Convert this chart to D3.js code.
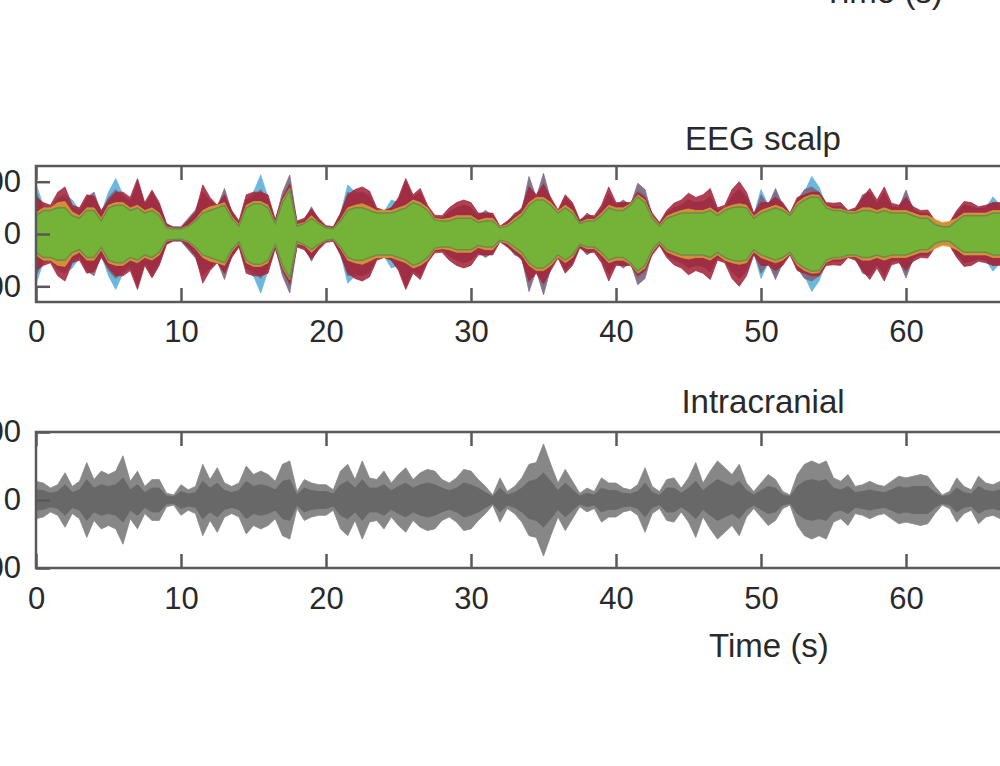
<!DOCTYPE html>
<html><head><meta charset="utf-8">
<script src="https://cdn.jsdelivr.net/npm/d3@7"></script>
<style>
body{margin:0;background:#fff}
svg{display:block}
text{font-family:"Liberation Sans",Arial,Helvetica,sans-serif;fill:#2a2a2a}
</style>
</head><body>
<svg id="chart" width="1000" height="766"></svg>
<script>
const time = [0,0.5,1,1.5,2,2.5,3,3.5,4,4.5,5,5.5,6,6.5,7,7.5,8,8.5,9,9.5,
 10,10.5,11,11.5,12,12.5,13,13.5,14,14.5,15,15.5,16,16.5,17,17.5,18,18.5,19,19.5,
 20,20.5,21,21.5,22,22.5,23,23.5,24,24.5,25,25.5,26,26.5,27,27.5,28,28.5,29,29.5,
 30,30.5,31,31.5,32,32.5,33,33.5,34,34.5,35,35.5,36,36.5,37,37.5,38,38.5,39,39.5,
 40,40.5,41,41.5,42,42.5,43,43.5,44,44.5,45,45.5,46,46.5,47,47.5,48,48.5,49,49.5,
 50,50.5,51,51.5,52,52.5,53,53.5,54,54.5,55,55.5,56,56.5,57,57.5,58,58.5,59,59.5,
 60,60.5,61,61.5,62,62.5,63,63.5,64,64.5,65,65.5,66,66.5,67];

const eegBlue = [95,55,50,70,75,65,45,65,70,40,80,106,75,65,90,55,70,55,18,12,
 12,25,40,75,60,50,75,40,22,65,80,113,70,25,70,100,22,26,45,26,
 14,12,38,94,80,80,75,45,42,65,60,90,70,75,50,32,30,42,50,55,
 50,35,38,35,13,22,35,45,95,65,100,60,40,65,55,24,35,30,48,75,
 55,58,55,85,75,35,20,40,50,55,65,60,62,70,45,50,72,85,70,35,
 85,55,80,55,38,65,80,110,90,55,52,52,42,45,65,75,58,78,52,50,
 75,46,40,40,24,20,20,40,55,52,48,50,71,55,50];

const eegGray = [80,50,48,65,70,50,42,70,80,40,70,85,70,60,100,55,80,55,18,14,
 14,30,46,80,65,52,87,42,22,65,70,85,65,25,80,113,22,26,52,26,
 14,12,36,80,75,80,70,45,42,50,65,100,70,80,50,32,30,42,50,55,
 50,35,45,35,13,22,40,45,110,70,116,65,42,70,55,24,40,30,48,78,
 55,65,55,97,85,35,20,40,50,55,65,60,62,72,45,50,72,85,70,35,
 75,55,87,55,38,65,85,90,80,55,52,52,42,45,75,80,58,80,52,50,
 84,46,40,40,24,20,20,40,55,52,48,50,60,55,50];

const eegRed = [70,60,55,80,90,55,50,75,72,45,65,80,80,70,106,60,84,60,20,12,
 12,26,42,94,70,55,75,45,25,75,80,80,75,28,70,95,25,30,48,30,
 16,14,40,75,85,90,82,50,45,50,70,106,75,87,55,36,35,50,60,65,
 60,40,40,40,15,25,36,50,90,75,95,70,46,75,60,27,36,35,55,90,
 60,60,60,80,70,40,22,45,59,65,78,70,75,87,50,55,85,100,80,40,
 60,60,70,60,40,70,75,80,80,60,59,60,45,50,70,87,65,90,59,55,
 70,52,45,46,26,20,22,45,62,60,52,55,60,60,55];

const eegOrange = [40,50,50,60,62,42,35,50,50,30,55,60,60,50,55,45,50,40,14,11,
 11,16,28,45,52,55,60,34,18,55,62,62,55,22,65,88,18,22,35,22,
 13,11,28,50,55,58,52,45,45,45,50,55,65,60,50,30,28,30,35,35,
 35,26,30,30,14,18,30,40,60,70,70,60,44,55,45,22,28,28,40,55,
 50,50,58,75,65,34,18,34,40,45,48,45,45,50,40,50,55,58,55,34,
 45,50,55,50,38,60,70,75,74,54,48,48,43,43,50,50,45,50,45,45,
 45,40,35,35,28,22,24,30,40,40,40,40,45,45,40];

const eegGreen = [35,45,45,50,50,35,30,45,45,25,50,55,55,45,50,40,45,35,12,10,
 10,14,25,40,45,50,55,30,15,50,58,58,50,20,60,84,15,20,30,20,
 12,10,25,45,50,50,45,40,40,40,45,50,60,55,45,27,25,25,30,30,
 30,22,25,25,12,15,25,35,55,65,65,55,40,50,40,20,25,25,35,50,
 45,45,55,71,60,30,15,30,35,40,40,40,40,45,35,45,50,52,50,30,
 40,45,50,45,35,55,65,71,70,50,45,45,40,40,45,45,40,45,40,40,
 40,35,30,30,18,14,14,25,35,35,35,35,40,40,35];

const icOuter = [55,50,35,45,80,40,55,110,60,85,75,85,130,55,85,40,60,60,20,15,
 45,30,40,105,60,95,50,40,50,100,75,85,75,55,105,115,25,60,50,45,
 45,30,85,105,60,115,65,60,85,50,75,95,60,80,90,85,60,50,65,90,
 85,60,40,15,65,25,40,65,105,110,165,105,50,90,55,20,35,25,65,50,
 50,35,30,45,95,40,25,60,65,35,65,110,50,85,115,95,75,105,50,25,
 50,75,60,25,15,75,105,115,105,115,65,55,75,40,45,55,45,40,55,70,
 65,70,75,70,40,15,25,65,40,30,70,50,45,55,50];

const icInner = [30,28,20,25,45,22,30,60,35,45,40,45,65,30,45,22,35,35,12,10,
 25,18,22,55,35,50,28,22,28,55,40,45,40,30,55,60,15,35,28,25,
 25,18,45,55,35,60,35,35,45,28,40,50,35,45,50,45,35,28,35,50,
 45,35,22,10,35,15,22,35,55,60,80,55,28,50,30,12,20,15,35,28,
 28,20,18,25,50,22,15,35,35,20,35,55,28,45,60,50,40,55,28,15,
 28,40,35,15,10,40,55,60,55,60,35,30,40,22,25,30,25,22,30,40,
 35,40,40,40,22,10,15,35,22,18,40,28,25,30,28];

const xTicks = [0,10,20,30,40,50,60];
const eegYTicks = [-100,0,100];
const icYTicks = [-200,0,200];
const eegTitle = "EEG scalp";
const icTitle = "Intracranial";
const xLabel = "Time (s)";

// ---------- drawing ----------
const svg = d3.select("#chart");
const x = d3.scaleLinear().domain([0,100]).range([36,1486]);
const frameColor = "#595959";

// cut-off x label of the panel above
svg.append("text").attr("x", 883).attr("y", 3).attr("text-anchor","middle")
  .style("font-size","33px").text(xLabel);

function panel(cfg){
  const y = d3.scaleLinear().domain(cfg.yDomain).range([cfg.bottom, cfg.top]);
  const g = svg.append("g");
  const clipId = "clip" + cfg.top;
  svg.append("clipPath").attr("id", clipId).append("rect")
    .attr("x", x.range()[0]).attr("y", cfg.top)
    .attr("width", x.range()[1]-x.range()[0]).attr("height", cfg.bottom-cfg.top);

  const area = d3.area()
    .x((d,i) => x(time[i]))
    .y0(v => y(-v)).y1(v => y(v))
    .curve(d3.curveLinear);

  const dataG = g.append("g").attr("clip-path", `url(#${clipId})`);
  cfg.series.forEach(s => {
    dataG.append("path").datum(s.values).attr("d", area)
      .attr("fill", s.color).attr("fill-opacity", s.opacity || 1)
      .attr("stroke", s.edge || s.color).attr("stroke-width", s.edgeWidth || 0.8)
      .attr("stroke-opacity", s.opacity || 1);
  });

  const ax = g.append("g").attr("transform", `translate(0,${cfg.bottom})`)
    .call(d3.axisBottom(x).tickValues(xTicks).tickSizeInner(-14).tickSizeOuter(0).tickPadding(cfg.xPad).tickFormat(d3.format("d")));
  const at = g.append("g").attr("transform", `translate(0,${cfg.top})`)
    .call(d3.axisTop(x).tickValues(xTicks).tickSizeInner(-14).tickSizeOuter(0).tickFormat(""));
  const ay = g.append("g").attr("transform", `translate(${x.range()[0]},0)`)
    .call(d3.axisLeft(y).tickValues(cfg.yTicks).tickSizeInner(-14).tickSizeOuter(0).tickPadding(15).tickFormat(d3.format("d")));
  [ax, at, ay].forEach(a => {
    a.select(".domain").remove();
    a.selectAll("line").attr("stroke", frameColor).attr("stroke-width", 2.5);
    a.selectAll("text").style("font-size","31px").attr("fill","#2a2a2a")
      .style("font-family","'Liberation Sans',Arial,Helvetica,sans-serif");
  });

  g.append("rect").attr("x", x.range()[0]).attr("y", cfg.top)
    .attr("width", x.range()[1]-x.range()[0]).attr("height", cfg.bottom-cfg.top)
    .attr("fill","none").attr("stroke", frameColor).attr("stroke-width", 2.5);

  g.append("text").attr("x", (x.range()[0]+x.range()[1])/2 + 2).attr("y", cfg.titleY)
    .attr("text-anchor","middle").style("font-size","33px").text(cfg.title);
  return y;
}

panel({
  top:166, bottom:302, yDomain:[-130,130], yTicks:eegYTicks, xPad:18,
  title:eegTitle, titleY:150,
  series:[
    {values:eegBlue, color:"#6cb8dd"},
    {values:eegGray, color:"#7a6680", opacity:0.9},
    {values:eegRed, color:"#a4243a", opacity:0.88},
    {values:eegOrange, color:"#d99a35", opacity:0.9},
    {values:eegGreen, color:"#74b337", edge:"#6c8c4a", edgeWidth:1.5}
  ]
});

panel({
  top:432, bottom:568, yDomain:[-200,200], yTicks:icYTicks, xPad:19,
  title:icTitle, titleY:413,
  series:[
    {values:icOuter, color:"#878787"},
    {values:icInner, color:"#686868"}
  ]
});

svg.append("text").attr("x", (x.range()[0]+x.range()[1])/2 + 8).attr("y", 657)
  .attr("text-anchor","middle").style("font-size","33px").text(xLabel);
</script>
</body></html>
